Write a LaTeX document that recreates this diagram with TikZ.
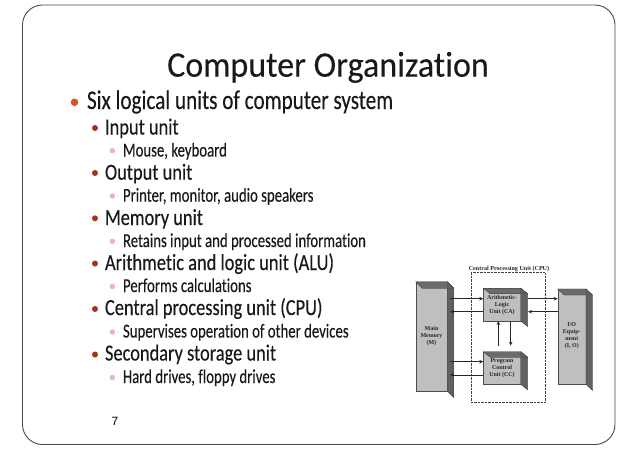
\documentclass[tikz,border=0pt]{standalone}
\usepackage{fontspec}
\newfontfamily\titlef[FakeStretch=0.945,FakeBold=0.12,Ligatures=NoCommon]{Carlito}
\newfontfamily\lvlAf[FakeStretch=0.785,FakeBold=0.2,Ligatures=NoCommon]{Carlito}
\newfontfamily\lvlBf[FakeStretch=0.80,FakeBold=0.2,Ligatures=NoCommon]{Carlito}
\newfontfamily\lvlCf[FakeStretch=0.75,FakeBold=0.2,Ligatures=NoCommon]{Carlito}
\newfontfamily\arialf{Liberation Sans}
\newfontfamily\timesf{Liberation Serif}
\usetikzlibrary{arrows.meta}
\definecolor{bulA}{HTML}{D9541E}
\definecolor{bulB}{HTML}{A5311F}
\definecolor{bulC}{HTML}{EBB5B0}
\definecolor{frameC}{HTML}{4A4A4A}
\tikzset{
 every node/.style={inner sep=0pt,outer sep=0pt},
 titletext/.style={anchor=base,font=\titlef\fontsize{36}{38}\selectfont,text=black!90},
 lvlA/.style={anchor=base west,font=\lvlAf\fontsize{27}{30}\selectfont,text=black!90},
 lvlB/.style={anchor=base west,font=\lvlBf\fontsize{23}{26}\selectfont,text=black!90},
 lvlC/.style={anchor=base west,font=\lvlCf\fontsize{19.7}{22}\selectfont,text=black!90},
 front/.style={draw=black!70,line width=.3pt,fill=black!25},
 boxlabel/.style={align=center,font=\timesf\bfseries\fontsize{6}{7}\selectfont,text=black!85},
 topface/.style={fill=black!58,draw=black!70,line width=.3pt},
 sideface/.style={fill=black!62,draw=black!70,line width=.3pt},
 link/.style={line width=.8pt,black!85,-{Stealth[length=4pt,width=3.5pt]}},
}
\newcommand{\boxthree}[5]{% name, x, y, w, h (centre-based)
 \node[front,minimum width=#4pt,minimum height=#5pt] (#1) at (#2,#3) {};
}
\newcommand{\depthfaces}[3]{% node, dx, dy
 \fill[topface] (#1.north west) -- ++(#2pt,#3pt) -- ([shift={(#2pt,#3pt)}]#1.north east) -- (#1.north east) -- cycle;
 \fill[sideface] (#1.north east) -- ++(#2pt,#3pt) -- ([shift={(#2pt,#3pt)}]#1.south east) -- (#1.south east) -- cycle;
 \draw[topface,fill=none] (#1.north west) -- ++(#2pt,#3pt) -- ([shift={(#2pt,#3pt)}]#1.north east) -- ([shift={(#2pt,#3pt)}]#1.south east) -- (#1.south east);
 \draw[topface,fill=none] (#1.north east) -- ++(#2pt,#3pt);
}
\begin{document}
\begin{tikzpicture}[x=1pt,y=-1pt]
\useasboundingbox (0,0) rectangle (638,451);
\fill[white] (0,0) rectangle (638,451);
\draw[frameC,line width=.9pt,rounded corners=20pt] (22.5,5) rectangle (615,444.5);
\node[titletext] (title) at (328,76.7) {Computer Organization};
\fill[bulA] (74.5,102.3) circle (3.8pt);
\node[lvlA] (l1) at (87,109) {Six logical units of computer system};
\foreach \yy in {128,173,218.3,263.5,309,354.5}{\fill[bulB] (95,\yy) circle (3pt);}
\foreach \yy in {150.7,196,241.3,286.5,332,377.5}{\fill[bulC] (112.3,\yy) circle (2.7pt);}
\node[lvlB] (i1) at (105,134.5) {Input unit};
\node[lvlC] (s1) at (123,156.5) {Mouse, keyboard};
\node[lvlB] (i2) at (105,179.7) {Output unit};
\node[lvlC] (s2) at (123,201.7) {Printer, monitor, audio speakers};
\node[lvlB] (i3) at (105,225) {Memory unit};
\node[lvlC] (s3) at (123,247) {Retains input and processed information};
\node[lvlB] (i4) at (105,270) {Arithmetic and logic unit (ALU)};
\node[lvlC] (s4) at (123,292) {Performs calculations};
\node[lvlB] (i5) at (105,315) {Central processing unit (CPU)};
\node[lvlC] (s5) at (123,337.5) {Supervises operation of other devices};
\node[lvlB] (i6) at (105,360.5) {Secondary storage unit};
\node[lvlC] (s6) at (123,383) {Hard drives, floppy drives};
\node[font=\arialf\fontsize{12}{14}\selectfont,anchor=center] (pg) at (115,421) {7};
% diagram
\boxthree{mem}{431.5}{336.3}{31.6}{109.3}
\boxthree{alu}{502}{304.6}{37.4}{32.7}
\boxthree{pcu}{502}{368}{37.4}{32.6}
\boxthree{io}{571.8}{336.6}{28.3}{95.3}
\depthfaces{mem}{6.5}{-6.5}
\depthfaces{alu}{7}{-5.5}
\depthfaces{pcu}{7}{-5.5}
\depthfaces{io}{6.5}{-6}
\node[boxlabel] (memt) at (431.5,336) {Main\\Memory\\(M)};
\node[boxlabel] (alut) at (502,304.6) {Arithmetic-\\Logic\\Unit (CA)};
\node[boxlabel] (pcut) at (502,368) {Program\\Control\\Unit (CC)};
\node[boxlabel] (iot) at (571.8,336) {I/O\\Equip-\\ment\\(I, O)};
\node[draw=black!75,densely dotted,line width=.4pt,minimum width=74pt,minimum height=130pt] (cpu) at (507.7,337.3) {};
\node[font=\timesf\bfseries\fontsize{6.1}{7}\selectfont,text=black!85] (cput) at (509,268.7) {Central Processing Unit (CPU)};
\coordinate (mr1) at (450,298.7); \coordinate (mr2) at (450,311.7);
\coordinate (mr3) at (450,361.7); \coordinate (mr4) at (450,375);
\coordinate (ar1) at (528,298.7); \coordinate (ar2) at (528,311.7);
\draw[link] (mr1) -- (mr1 -| alu.west);
\draw[link] (mr2 -| alu.west) -- (mr2);
\draw[link] (mr3) -- (mr3 -| pcu.west);
\draw[link] (mr4 -| pcu.west) -- (mr4);
\draw[link] (ar1) -- (ar1 -| io.west);
\draw[link] (ar2 -| io.west) -- (ar2);
\coordinate (v1) at (498.3,345.7); \coordinate (v2) at (510.7,345.7);
\draw[link] (v1) -- (v1 |- alu.south);
\draw[link] (v2 |- alu.south) -- (v2);
\end{tikzpicture}
\end{document}
